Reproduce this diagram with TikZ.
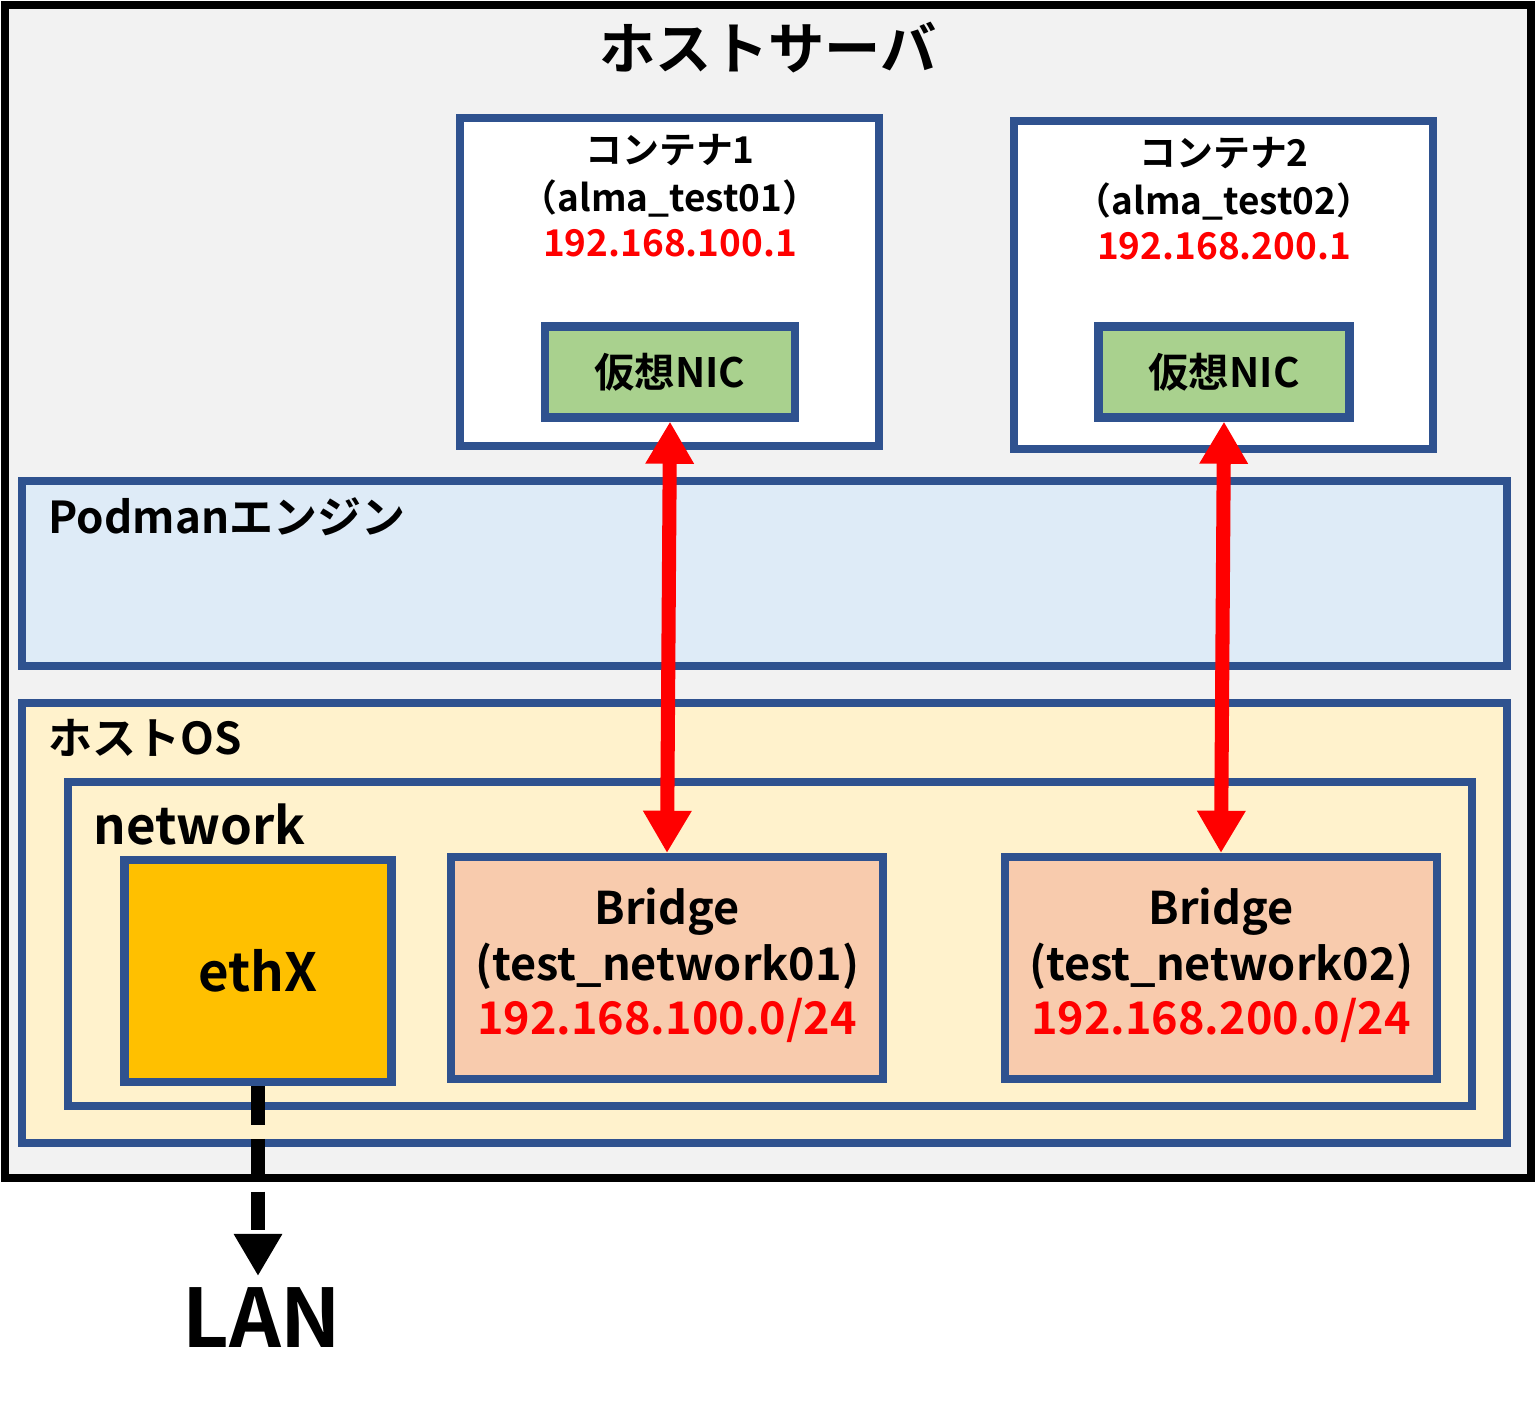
\documentclass[tikz,border=0pt]{standalone}
\usepackage{fontspec}
\setmainfont{Noto Sans CJK JP}[BoldFont={Noto Sans CJK JP Bold}]
\usetikzlibrary{arrows.meta}
\definecolor{bl}{HTML}{2F528F}
\begin{document}
\begin{tikzpicture}[x=0.01cm,y=-0.01cm,
 box/.style={draw=bl,line width=2.3pt},
 t/.style={font=\bfseries\fontsize{10.5}{13}\selectfont,align=center,inner sep=0},
 b/.style={font=\bfseries\fontsize{12.8}{15}\selectfont,align=center,inner sep=0},
 rt/.style={text=red},
 conn/.style={red,line width=4pt,{Triangle[length=12pt,width=13pt]}-{Triangle[length=12pt,width=13pt]}}]
\useasboundingbox (0,0) rectangle (1536,1408);
\draw[fill=black!5,line width=2.3pt] (5,5) rectangle (1531,1178);
\node[font=\bfseries\fontsize{16}{18}\selectfont] (title) at (768,48) {ホストサーバ};
% containers
\draw[box,fill=white] (460,118) rectangle (879,446);
\node[t] (c1a) at (670,150) {コンテナ1};
\node[t] (c1b) at (670,198) {（alma\_test01）};
\node[t,rt] (c1c) at (670,243) {192.168.100.1};
\node[box,fill={rgb,255:red,169;green,209;blue,142},minimum width=250*0.01cm,minimum height=91*0.01cm,t] (nic1) at (670,372) {\fontsize{11.5}{14}\selectfont 仮想NIC};
\draw[box,fill=white] (1014,121) rectangle (1433,449);
\node[t] (c2a) at (1224,153) {コンテナ2};
\node[t] (c2b) at (1224,201) {（alma\_test02）};
\node[t,rt] (c2c) at (1224,246) {192.168.200.1};
\node[box,fill={rgb,255:red,169;green,209;blue,142},minimum width=251*0.01cm,minimum height=91*0.01cm,t] (nic2) at (1224,372) {\fontsize{11.5}{14}\selectfont 仮想NIC};
% podman
\draw[box,fill={rgb,255:red,222;green,235;blue,247}] (22,481) rectangle (1507,666);
\node[t,anchor=west] (pod) at (48,517) {\fontsize{12.5}{15}\selectfont Podmanエンジン};
% host os
\draw[box,fill={rgb,255:red,255;green,242;blue,204}] (22,703) rectangle (1507,1143);
\node[t,anchor=west] (hos) at (48,738) {\fontsize{12.5}{15}\selectfont ホストOS};
\draw[box] (68,782) rectangle (1472,1106);
\node[anchor=west,inner sep=0,font=\bfseries\fontsize{14.5}{17}\selectfont] (net) at (93,824) {network};
\node[box,fill={rgb,255:red,255;green,192;blue,0},minimum width=267*0.01cm,minimum height=222*0.01cm,inner sep=0,font=\bfseries\fontsize{15}{17}\selectfont] (eth) at (258,971) {ethX};
\node[box,fill={rgb,255:red,248;green,203;blue,173},minimum width=432*0.01cm,minimum height=222*0.01cm] (br1) at (667,968) {};
\node[b] at (667,912) {Bridge};
\node[b] at (667,966) {(test\_network01)};
\node[b,rt] at (667,1020) {192.168.100.0/24};
\node[box,fill={rgb,255:red,248;green,203;blue,173},minimum width=432*0.01cm,minimum height=222*0.01cm] (br2) at (1221,968) {};
\node[b] at (1221,912) {Bridge};
\node[b] at (1221,966) {(test\_network02)};
\node[b,rt] at (1221,1020) {192.168.200.0/24};
% arrows
\draw[conn] (nic1.south) -- (br1.north);
\draw[conn] (nic2.south) -- (br2.north);
\node[font=\bfseries\fontsize{23}{25}\selectfont,inner sep=0] (lan) at (262,1318) {LAN};
\coordinate (lanend) at (258,1276);
\draw[line width=4pt,dash pattern=on 11pt off 4pt,-{Triangle[length=12pt,width=13pt]}] (eth.south) -- (lanend);
\end{tikzpicture}
\end{document}
